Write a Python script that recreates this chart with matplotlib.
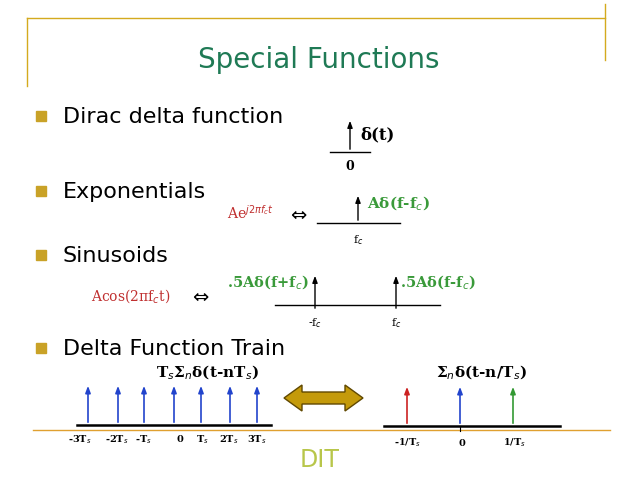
import matplotlib
matplotlib.use("Agg")
import matplotlib.pyplot as plt
from matplotlib.patches import Polygon, Rectangle

bullets = ["Dirac delta function", "Exponentials", "Sinusoids", "Delta Function Train"]
bullet_y = [117, 192, 256, 349]
train_x = [88, 118, 144, 174, 201, 230, 257]
train_label_x = [80, 117, 143, 180, 202, 229, 257]
train_labels = ["-3T$_s$", "-2T$_s$", "-T$_s$", "0", "T$_s$", "2T$_s$", "3T$_s$"]
right_x = [407, 460, 513]
right_label_x = [408, 462, 515]
right_labels = ["-1/T$_s$", "0", "1/T$_s$"]
right_colors = ["#cc2222", "#2244cc", "#339933"]

fig = plt.figure(figsize=(6.38, 4.78), dpi=100)
ax = fig.add_axes([0, 0, 1, 1])
ax.set_xlim(0, 638); ax.set_ylim(478, 0); ax.axis("off")
gold = "#d4aa1e"
ax.plot([27, 605], [18, 18], color=gold, lw=1)
ax.plot([27, 27], [18, 86], color=gold, lw=1)
ax.plot([605, 605], [4, 60], color=gold, lw=1)
ax.plot([33, 610], [430, 430], color="#e0a030", lw=1)

ax.text(319, 60, "Special Functions", color="#1f7a55", fontsize=20, ha="center", va="center")
for t, y in zip(bullets, bullet_y):
    ax.add_patch(Rectangle((36, y - 6), 10, 10, color="#c9a227"))
    ax.text(63, y, t, fontsize=16, va="center")

def arrow(x, y0, y1, c="black", lw=1):
    ax.annotate("", xy=(x, y1), xytext=(x, y0),
                arrowprops=dict(arrowstyle="-|>,head_width=0.15,head_length=0.4", color=c, lw=lw))

serif = "DejaVu Serif"
# Dirac
ax.plot([330, 370], [152, 152], color="k", lw=1)
arrow(350, 152, 118)
ax.text(360, 135, "δ(t)", fontsize=12, family=serif, fontweight="bold", va="center")
ax.text(350, 166, "0", fontsize=9, family=serif, fontweight="bold", ha="center", va="center")
# Exponential
green = "#3a9a3a"; red = "#c03030"
ax.text(227, 213, "Ae$^{j2\\pi f_c t}$", color=red, fontsize=10, family=serif, va="center")
ax.text(298, 215, "⇔", fontsize=14, ha="center", va="center")
ax.plot([317, 400], [223, 223], color="k", lw=1)
arrow(358, 223, 193)
ax.text(367, 204, "Aδ(f-f$_c$)", color=green, fontsize=11, family=serif, fontweight="bold", va="center")
ax.text(358, 240, "f$_c$", fontsize=8, family=serif, ha="center", va="center")
# Sinusoids
ax.text(91, 296, "Acos(2πf$_c$t)", color=red, fontsize=10, family=serif, va="center")
ax.text(200, 297, "⇔", fontsize=14, ha="center", va="center")
ax.plot([275, 440], [305, 305], color="k", lw=1)
for x in [315, 396]:
    arrow(x, 311, 273)
ax.text(309, 283, ".5Aδ(f+f$_c$)", color=green, fontsize=10.5, family=serif, fontweight="bold", ha="right", va="center")
ax.text(400, 283, ".5Aδ(f-f$_c$)", color=green, fontsize=10.5, family=serif, fontweight="bold", va="center")
ax.text(315, 323, "-f$_c$", fontsize=8, family=serif, ha="center", va="center")
ax.text(396, 323, "f$_c$", fontsize=8, family=serif, ha="center", va="center")
# Train left
ax.text(207, 373, "T$_s$Σ$_n$δ(t-nT$_s$)", fontsize=11, family=serif, fontweight="bold", ha="center", va="center")
ax.plot([77, 271], [425, 425], color="k", lw=1.8)
for x in train_x:
    arrow(x, 425, 383, c="#2244cc", lw=1.2)
for x, l in zip(train_label_x, train_labels):
    ax.text(x, 440, l, fontsize=7, family=serif, fontweight="bold", ha="center", va="center")
# double arrow
ax.add_patch(Polygon([(284, 398), (302, 385), (302, 392), (345, 392), (345, 385), (363, 398),
                      (345, 411), (345, 404), (302, 404), (302, 411)],
                     closed=True, facecolor="#c49a0a", edgecolor="#604800", lw=1))
# Train right
ax.text(481, 373, "Σ$_n$δ(t-n/T$_s$)", fontsize=11, family=serif, fontweight="bold", ha="center", va="center")
ax.plot([384, 560], [426, 426], color="k", lw=1.8)
ax.plot([460, 460], [426, 431], color="k", lw=0.8)
for x, c in zip(right_x, right_colors):
    arrow(x, 426, 384, c=c, lw=1.2)
for x, l in zip(right_label_x, right_labels):
    ax.text(x, 443, l, fontsize=7, family=serif, fontweight="bold", ha="center", va="center")
ax.text(320, 460, "DIT", color="#b8c64a", fontsize=17, ha="center", va="center")
fig.savefig("out.png", dpi=100)
